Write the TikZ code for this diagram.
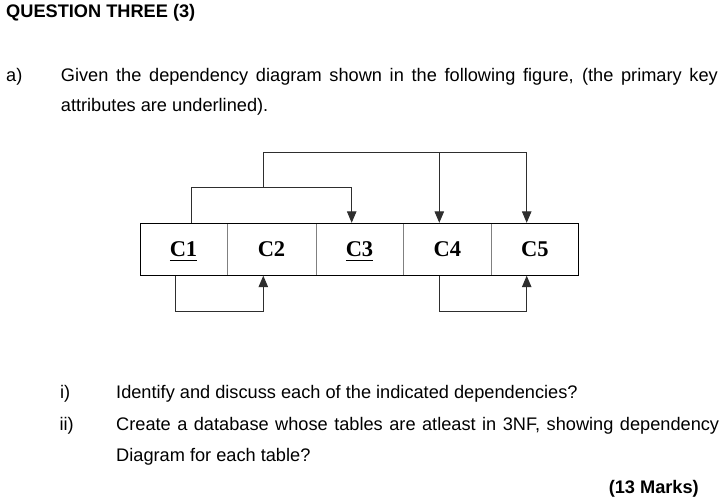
\documentclass[tikz,border=0pt]{standalone}
\usepackage{fontspec}
\setmainfont{Liberation Sans}
\newfontfamily\cellfont{Liberation Serif}
\usetikzlibrary{arrows.meta}
\newcommand\ulkey[1]{\setbox0\hbox{#1}\rlap{\rule[-4.8pt]{\wd0}{1.4pt}}\box0}
\definecolor{linegray}{HTML}{2E2E2E}
\definecolor{divgray}{HTML}{808080}
\begin{document}
\begin{tikzpicture}[x=1pt,y=-1pt,
  txt/.style={anchor=base west,inner sep=0pt,font=\fontsize{18.2}{31}\selectfont},
  cell/.style={minimum width=87pt,minimum height=52.5pt,inner sep=0pt,
     text height=14pt,text depth=0pt,font=\cellfont\bfseries\fontsize{22.5}{24}\selectfont},
  dep/.style={draw=linegray,line width=1pt},
  deparrow/.style={dep,-{Triangle[length=11.5pt,width=9.5pt]}}]
\useasboundingbox (0,0) rectangle (726,500);
\fill[white] (0,0) rectangle (726,500);
% texts
\node[txt,font=\bfseries\fontsize{18.2}{22}\selectfont] (head) at (6,17.5) {QUESTION THREE (3)};
\node[txt] (la) at (6,81.5) {a)};
\node[txt] (g1) at (60.7,81.5) {\makebox[657pt][s]{Given the dependency diagram shown in the following figure, (the primary key}};
\node[txt] (g2) at (60.7,111.7) {attributes are underlined).};
\node[txt] (li) at (60,398.3) {i)};
\node[txt] (t1) at (116,398.3) {Identify and discuss each of the indicated dependencies?};
\node[txt] (lii) at (59.3,430) {ii)};
\node[txt] (t2) at (116,430) {\makebox[603pt][s]{Create a database whose tables are atleast in 3NF, showing dependency}};
\node[txt] (t3) at (116,461) {Diagram for each table?};
\node[txt,anchor=base east,font=\bfseries\fontsize{18.2}{22}\selectfont] (marks) at (699,493) {(13 Marks)};
% cells
\node[cell] (c1) at (183.5,249.25) {\ulkey{C1}};
\node[cell] (c2) at (271.5,249.25) {C2};
\node[cell] (c3) at (359.5,249.25) {\ulkey{C3}};
\node[cell] (c4) at (447.3,249.25) {C4};
\node[cell] (c5) at (534.8,249.25) {C5};
\draw[divgray,line width=1pt] (227,223) -- (227,275.5) (316,223) -- (316,275.5)
  (403,223) -- (403,275.5) (491.7,223) -- (491.7,275.5);
\draw[black,line width=1pt] (140,223) rectangle (578,275.5);
% connectors above
\coordinate (mid) at (263.3,187.3);
\draw[deparrow] ([xshift=8.2pt]c1.north) |- (mid) -| ([xshift=-7.8pt]c3.north);
\draw[dep] (mid) -- (263.3,152.3) coordinate (topl) -- (526.7,152.3) coordinate (topr);
\draw[deparrow] (topl -| c4.north) ++(-8pt,0) coordinate (d4) -- ([xshift=-8pt]c4.north);
\draw[deparrow] (topr) -- ([xshift=-8.1pt]c5.north);
% connectors below
\draw[deparrow] ([xshift=-8.5pt]c1.south) -- ++(0,35.5) -| ([xshift=-8.2pt]c2.south);
\draw[deparrow] ([xshift=-8pt]c4.south) -- ++(0,35.5) -| ([xshift=-8.1pt]c5.south);
\end{tikzpicture}
\end{document}
